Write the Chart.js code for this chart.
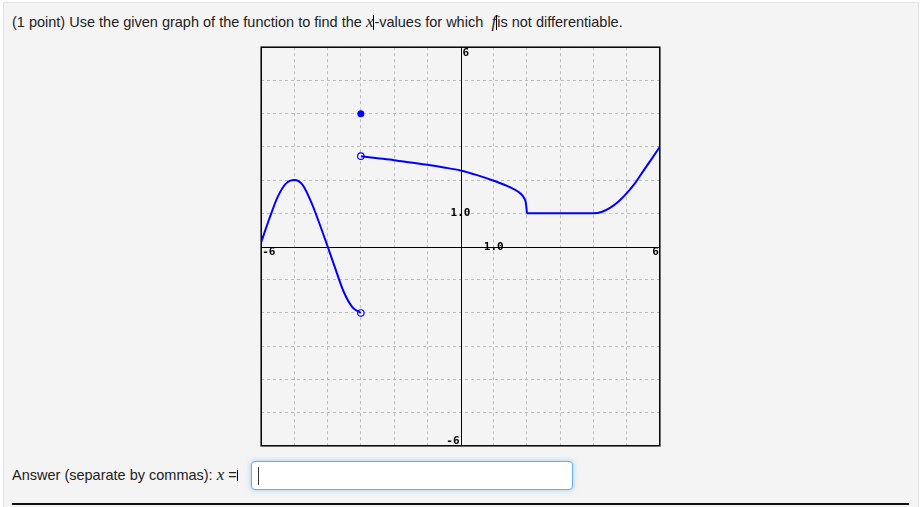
<!DOCTYPE html>
<html>
<head>
<meta charset="utf-8">
<script src="https://cdn.jsdelivr.net/npm/chart.js@4.4.0/dist/chart.umd.min.js"></script>
<style>
  html, body { margin: 0; padding: 0; background: #fff; width: 921px; height: 507px; overflow: hidden; }
  .panel { position: absolute; left: 3px; top: 2px; width: 914px; height: 510px; background: #f4f4f4; border: 1px solid #e3e3e3; }
  .txt { position: absolute; left: 12px; font-family: "Liberation Sans", Arial, sans-serif; font-size: 14.5px; color: #222; white-space: nowrap; line-height: 16px; }
  .mi { font-family: "Liberation Serif", serif; font-style: italic; font-size: 17px; }
  .bar { display: inline-block; width: 0; height: 15px; border-left: 1px solid #000; vertical-align: -3px; }
  #plot { position: absolute; left: 256px; top: 42px; }
  .answer { position: absolute; left: 251px; top: 461px; width: 320px; height: 27px; background: #fff; border: 1px solid #66afe9; border-radius: 4px; box-shadow: 0 0 5px rgba(102,175,233,.6); }
  .caret { position: absolute; left: 6px; top: 5px; width: 1px; height: 18px; background: #333; }
  .rule { position: absolute; left: 12px; top: 503px; width: 897px; height: 2px; background: #111; }
</style>
</head>
<body>
<div class="panel"></div>
<div class="txt" style="top:14px">(1 point) Use the given graph of the function to find the <span class="mi">x</span><span class="bar"></span>-values for which <span class="mi">&nbsp;f</span><span class="bar"></span>is not differentiable.</div>
<canvas id="plot" width="409" height="409"></canvas>
<div class="txt" style="top:467px">Answer (separate by commas): <span class="mi">x</span> =<span class="bar" style="height:11px;vertical-align:-1px"></span></div>
<div class="answer"><div class="caret"></div></div>
<div class="rule"></div>
<script>
// axis range and labels
var xMin = -6, xMax = 6, yMin = -6, yMax = 6;

// left piece, x from -6 to -3 (open at -3)
var leftX = [-6, -5.75, -5.5, -5.25, -5, -4.75, -4.5, -4.25, -4, -3.75, -3.5, -3.25, -3];
var leftY = [0.13, 0.85, 1.5, 1.9, 2.0, 1.85, 1.35, 0.7, 0, -0.72, -1.4, -1.83, -2.0];

// middle piece, open at -3, drops to 1 at x = 2
var midX = [-3, -2.5, -2, -1.5, -1, -0.5, 0, 0.5, 1, 1.5, 1.75, 1.87, 1.93, 1.97, 2];
var midY = [2.72, 2.66, 2.6, 2.53, 2.46, 2.38, 2.29, 2.15, 1.98, 1.78, 1.64, 1.53, 1.43, 1.3, 1];

// right piece, flat then rising
var rightX = [2, 3, 4, 4.25, 4.5, 4.75, 5, 5.25, 5.5, 5.75, 6];
var rightY = [1, 1, 1, 1.04, 1.16, 1.35, 1.6, 1.9, 2.27, 2.63, 3];

// filled point and open endpoints
var dotX = [-3], dotY = [4];
var openX = [-3, -3], openY = [2.72, -2];

function pts(xs, ys) {
  return xs.map(function(x, i) { return { x: x, y: ys[i] }; });
}

var blue = '#0000ff';

// frame, axes and the little labels
var axesPlugin = {
  id: 'axes',
  beforeDatasetsDraw: function(chart) {
    var c = chart.ctx, a = chart.chartArea;
    var sx = chart.scales.x, sy = chart.scales.y;
    var x0 = Math.round(sx.getPixelForValue(0)) + 0.5;
    var y0 = Math.round(sy.getPixelForValue(0)) + 0.5;
    c.save();
    c.strokeStyle = '#000';
    c.lineWidth = 1;
    c.beginPath();
    c.moveTo(x0, a.top); c.lineTo(x0, a.bottom);
    c.moveTo(a.left, y0); c.lineTo(a.right, y0);
    c.stroke();
    c.lineWidth = 1.5;
    c.strokeRect(a.left, a.top, a.right - a.left, a.bottom - a.top);
    c.restore();
  },
  afterDraw: function(chart) {
    var c = chart.ctx;
    var sx = chart.scales.x, sy = chart.scales.y;
    var x0 = sx.getPixelForValue(0), y0 = sy.getPixelForValue(0);
    c.save();
    c.fillStyle = '#000';
    c.font = 'bold 11px "DejaVu Sans Mono", monospace';
    c.textBaseline = 'middle';
    c.textAlign = 'center';
    c.fillText('1.0', x0, sy.getPixelForValue(1));
    c.fillText('1.0', sx.getPixelForValue(1), y0 + 1);
    c.textAlign = 'left';
    c.fillText(String(yMax), x0 + 2, sy.getPixelForValue(yMax) + 6);
    c.fillText(String(xMin), sx.getPixelForValue(xMin) + 1, y0 + 6);
    c.textAlign = 'right';
    c.fillText(String(yMin), x0 - 1, sy.getPixelForValue(yMin) - 5);
    c.fillText(String(xMax), sx.getPixelForValue(xMax) - 1, y0 + 6);
    c.restore();
  }
};

function gridColor(ctx) {
  return ctx.tick && ctx.tick.value === 0 ? 'rgba(0,0,0,0)' : '#bdbdbd';
}

new Chart(document.getElementById('plot'), {
  type: 'scatter',
  data: {
    datasets: [
      { data: pts(leftX, leftY), showLine: true, borderColor: blue, borderWidth: 2, pointRadius: 0, cubicInterpolationMode: 'monotone' },
      { data: pts(midX, midY), showLine: true, borderColor: blue, borderWidth: 2, pointRadius: 0, cubicInterpolationMode: 'monotone' },
      { data: pts(rightX, rightY), showLine: true, borderColor: blue, borderWidth: 2, pointRadius: 0, cubicInterpolationMode: 'monotone' },
      { data: pts(dotX, dotY), pointRadius: 3.5, pointBackgroundColor: blue, pointBorderColor: blue, pointBorderWidth: 0 },
      { data: pts(openX, openY), pointRadius: 3.2, pointBackgroundColor: '#fff', pointBorderColor: blue, pointBorderWidth: 1.2 }
    ]
  },
  options: {
    responsive: false,
    animation: false,
    layout: { padding: 2 },
    plugins: { legend: { display: false }, tooltip: { enabled: false } },
    scales: {
      x: {
        type: 'linear', min: xMin, max: xMax,
        ticks: { display: false, stepSize: 1 },
        grid: { color: gridColor, drawTicks: false, lineWidth: 1 },
        border: { display: false, dash: [3, 3] }
      },
      y: {
        type: 'linear', min: yMin, max: yMax,
        ticks: { display: false, stepSize: 1 },
        grid: { color: gridColor, drawTicks: false, lineWidth: 1 },
        border: { display: false, dash: [3, 3] }
      }
    }
  },
  plugins: [axesPlugin]
});
</script>
</body>
</html>
